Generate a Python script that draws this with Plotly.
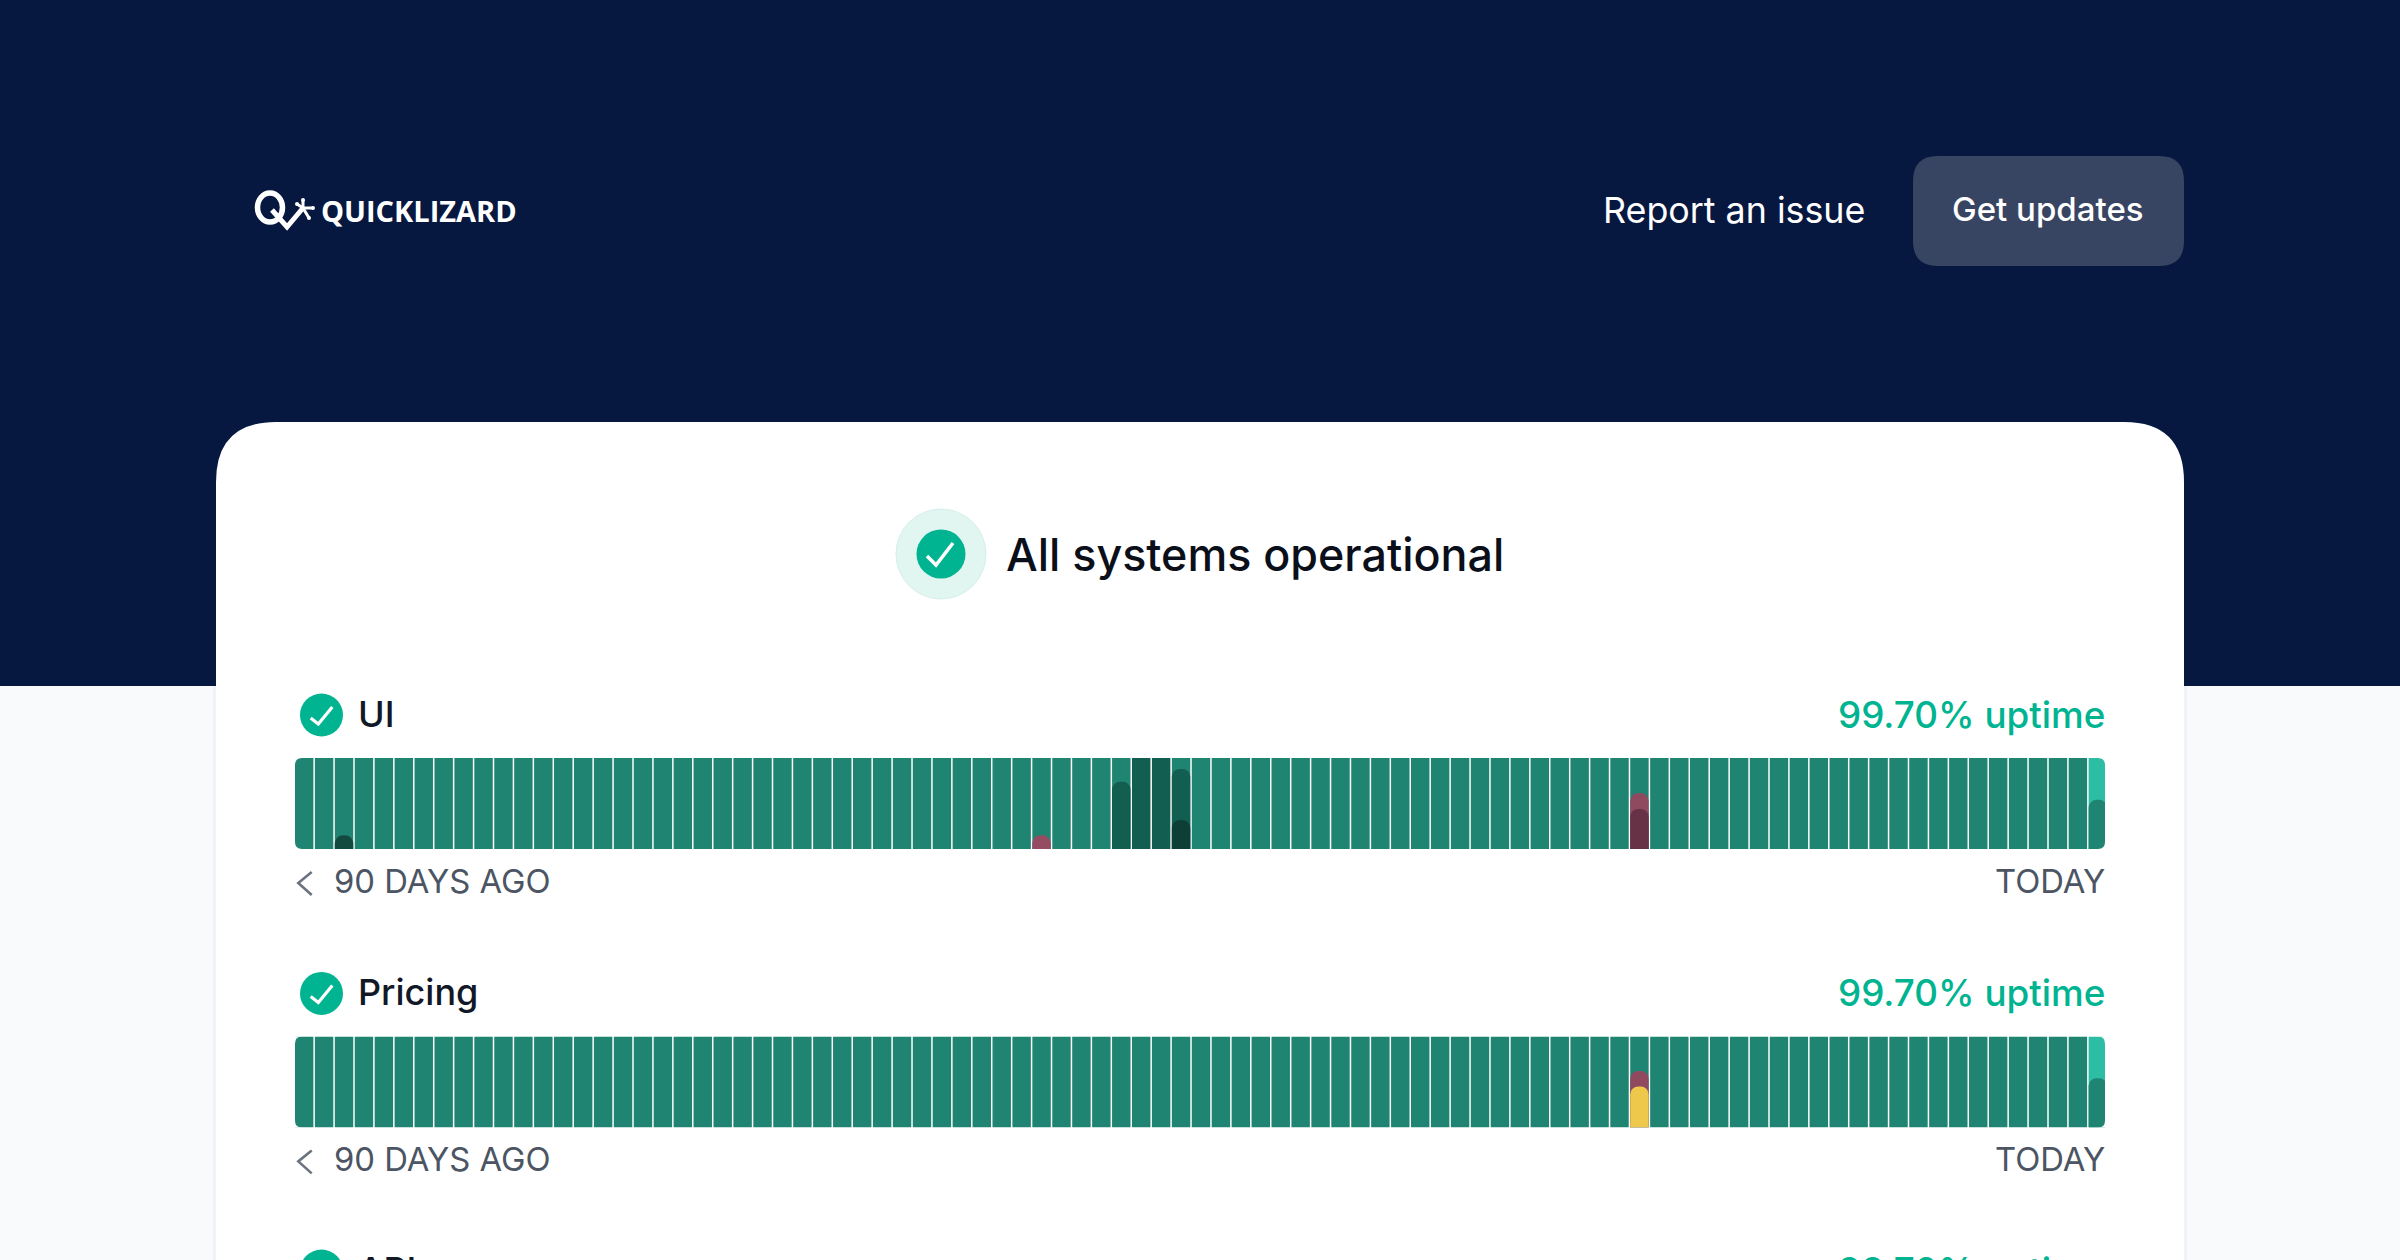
import plotly.graph_objects as go

W, H = 2400, 1260

# status history, one column per day (90 days ago .. today)
days = list(range(91))
base_height = [100] * 91

# columns with an incident, height is % of the column
ui_incident_days = [2, 37, 41, 44, 67, 90]
ui_incident_heights = [15, 15, 74, 88, 61.5, 54]
ui_incident_colors = ["#134a3f", "#954b62", "#125e50", "#125e50", "#8f4a60", "#208472"]
ui_major_days = [44, 67]
ui_major_heights = [32, 44]
ui_major_colors = ["#0e3f37", "#673245"]
ui_full_days = [42, 43]

pricing_incident_days = [67, 90]
pricing_incident_heights = [62, 54]
pricing_incident_colors = ["#8f4a60", "#208472"]
pricing_major_days = [67]
pricing_major_heights = [45]
pricing_major_colors = ["#edc84a"]

services = ["UI", "Pricing", "API"]
uptimes = ["99.70% uptime", "99.70% uptime", "99.70% uptime"]

NAVY = "#06183f"
GREEN = "#208472"
LIGHT_GREEN = "#2dbda5"
ACCENT = "#00b491"
FONT = "Inter"
BAR_WIDTH = 0.925


def px(x):
    return x / W


def py(y):
    return 1 - y / H


def to_path(cmds):
    # cmds in page pixels: [("M", x, y), ("Q", cx, cy, x, y), ("Z",)]
    out = []
    for c in cmds:
        nums = []
        for i in range(1, len(c), 2):
            nums.append(f"{px(c[i]):.6f},{py(c[i + 1]):.6f}")
        out.append(c[0] + " " + " ".join(nums))
    return " ".join(out)


def round_rect(x0, y0, x1, y1, r):
    return to_path([
        ("M", x0 + r, y0), ("L", x1 - r, y0), ("Q", x1, y0, x1, y0 + r),
        ("L", x1, y1 - r), ("Q", x1, y1, x1 - r, y1),
        ("L", x0 + r, y1), ("Q", x0, y1, x0, y1 - r),
        ("L", x0, y0 + r), ("Q", x0, y0, x0 + r, y0), ("Z",),
    ])


shapes = []


def fill_path(path, color, layer="below"):
    shapes.append(dict(type="path", xref="paper", yref="paper", path=path,
                       fillcolor=color, line=dict(width=0), layer=layer))


def stroke_path(points, color, width, layer="above"):
    cmds = [("M", *points[0])] + [("L", *p) for p in points[1:]]
    shapes.append(dict(type="path", xref="paper", yref="paper", path=to_path(cmds),
                       line=dict(color=color, width=width), layer=layer))


def circle(cx, cy, r, color, line=None, lw=0, layer="above", ry=None):
    ry = r if ry is None else ry
    shapes.append(dict(type="circle", xref="paper", yref="paper",
                       x0=px(cx - r), x1=px(cx + r), y0=py(cy + ry), y1=py(cy - ry),
                       fillcolor=color, line=dict(color=line, width=lw), layer=layer))


annotations = []


def label(x, y, text, size, color, anchor="left", weight=400, family=FONT):
    annotations.append(dict(xref="paper", yref="paper", x=px(x), y=py(y), text=text,
                            showarrow=False, xanchor=anchor, yanchor="middle",
                            borderpad=0, borderwidth=0,
                            font=dict(family=family, size=size, color=color, weight=weight)))


# page background, navy header, white card
fill_path(to_path([("M", 0, 0), ("L", W, 0), ("L", W, 686), ("L", 0, 686), ("Z",)]), NAVY)
fill_path(to_path([("M", 213, 686), ("L", 2187, 686), ("L", 2187, 1300), ("L", 213, 1300), ("Z",)]), "#f1f3f7")
fill_path(round_rect(216, 422, 2184, 1340, 60), "#ffffff")

# logo
circle(270, 207.5, 12.5, "rgba(0,0,0,0)", "#ffffff", 5.5, ry=14.5)
stroke_path([(272, 210), (287, 227), (303, 208)], "#ffffff", 5)
for toe in [(303, 200), (313, 208), (309, 218), (297, 204)]:
    stroke_path([(303, 208), toe], "#ffffff", 3)
    circle(toe[0], toe[1], 2, "#ffffff")
label(321, 211, "QUICKLIZARD", 29, "#ffffff", weight=700, family="Open Sans")

# header links
label(1603, 210, "Report an issue", 35.8, "#ffffff")
fill_path(round_rect(1913, 156, 2184, 266, 25), "#384562")
label(2048, 209, "Get updates", 33, "#ffffff", anchor="center", weight=500)

# overall status
circle(941, 554, 45, "#e1f5f1", "#d5f0ea", 1)
circle(941, 554, 24.5, ACCENT)
stroke_path([(927, 556), (936, 565), (953, 543)], "#ffffff", 3.5)
label(1006, 555, "All systems operational", 44.8, "#0b0f19", weight=500)

# one row per service
STRIP_H = 91
row_tops = [758, 1036.4, 1314]
for service, uptime, top in zip(services, uptimes, row_tops):
    label_y = top - 44
    circle(321.5, label_y + 1, 21.5, ACCENT)
    stroke_path([(310.7, label_y + 4), (318.3, label_y + 10), (332.3, label_y - 7)], "#ffffff", 3.2)
    label(358, label_y, service, 36, "#111827", weight=500)
    label(2105, label_y, uptime, 36.8, ACCENT, anchor="right", weight=500)
    if top < H:
        stroke_path([(311.7, top + 114), (298.3, top + 125), (311.7, top + 137)], "#6b7280", 2.6)
        label(334, top + 123, "90 DAYS AGO", 32.8, "#4b5563")
        label(2105, top + 123, "TODAY", 32.8, "#4b5563", anchor="right")
        # round the outer corners of the strip
        r = 7
        for (cx, cy, dx, dy) in [(295, top, 1, 1), (2105, top, -1, 1),
                                 (295, top + STRIP_H, 1, -1), (2105, top + STRIP_H, -1, -1)]:
            fill_path(to_path([("M", cx, cy), ("L", cx + dx * r, cy),
                               ("Q", cx, cy, cx, cy + dy * r), ("Z",)]), "#ffffff", layer="above")

fig = go.Figure()


def add_layer(d, h, c, xaxis, yaxis, radius):
    fig.add_trace(go.Bar(x=d, y=h, width=BAR_WIDTH,
                         marker=dict(color=c, cornerradius=radius, line=dict(width=0)),
                         xaxis=xaxis, yaxis=yaxis, showlegend=False))


ui_colors = [GREEN] * 91
for d in ui_full_days:
    ui_colors[d] = "#125e50"
ui_colors[90] = LIGHT_GREEN
pricing_colors = [GREEN] * 91
pricing_colors[90] = LIGHT_GREEN

# each layer gets its own y axis, plotly only rounds the tallest bar of a column per subplot
add_layer(days, base_height, ui_colors, "x", "y", 0)
add_layer(ui_incident_days, ui_incident_heights, ui_incident_colors, "x", "y3", 8)
add_layer(ui_major_days, ui_major_heights, ui_major_colors, "x", "y4", 8)
add_layer(days, base_height, pricing_colors, "x2", "y2", 0)
add_layer(pricing_incident_days, pricing_incident_heights, pricing_incident_colors, "x2", "y5", 8)
add_layer(pricing_major_days, pricing_major_heights, pricing_major_colors, "x2", "y6", 8)

strip_axis = dict(range=[-0.46, 90.36], visible=False, fixedrange=True, domain=[295 / W, 2105 / W])
level_axis = dict(range=[0, 100], visible=False, fixedrange=True)
fig.update_layout(
    width=W, height=H, margin=dict(l=0, r=0, t=0, b=0, pad=0),
    paper_bgcolor="#f8fafc", plot_bgcolor="rgba(0,0,0,0)",
    barmode="overlay",
    xaxis=dict(strip_axis, anchor="y"),
    yaxis=dict(level_axis, anchor="x", domain=[py(row_tops[0] + STRIP_H), py(row_tops[0])]),
    yaxis3=dict(level_axis, anchor="x", overlaying="y"),
    yaxis4=dict(level_axis, anchor="x", overlaying="y"),
    xaxis2=dict(strip_axis, anchor="y2"),
    yaxis2=dict(level_axis, anchor="x2", domain=[py(row_tops[1] + STRIP_H), py(row_tops[1])]),
    yaxis5=dict(level_axis, anchor="x2", overlaying="y2"),
    yaxis6=dict(level_axis, anchor="x2", overlaying="y2"),
    shapes=shapes, annotations=annotations, showlegend=False,
)

fig.write_html("out.html", config=dict(displayModeBar=False),
               post_script="document.body.style.margin='0';document.body.style.overflow='hidden';")
